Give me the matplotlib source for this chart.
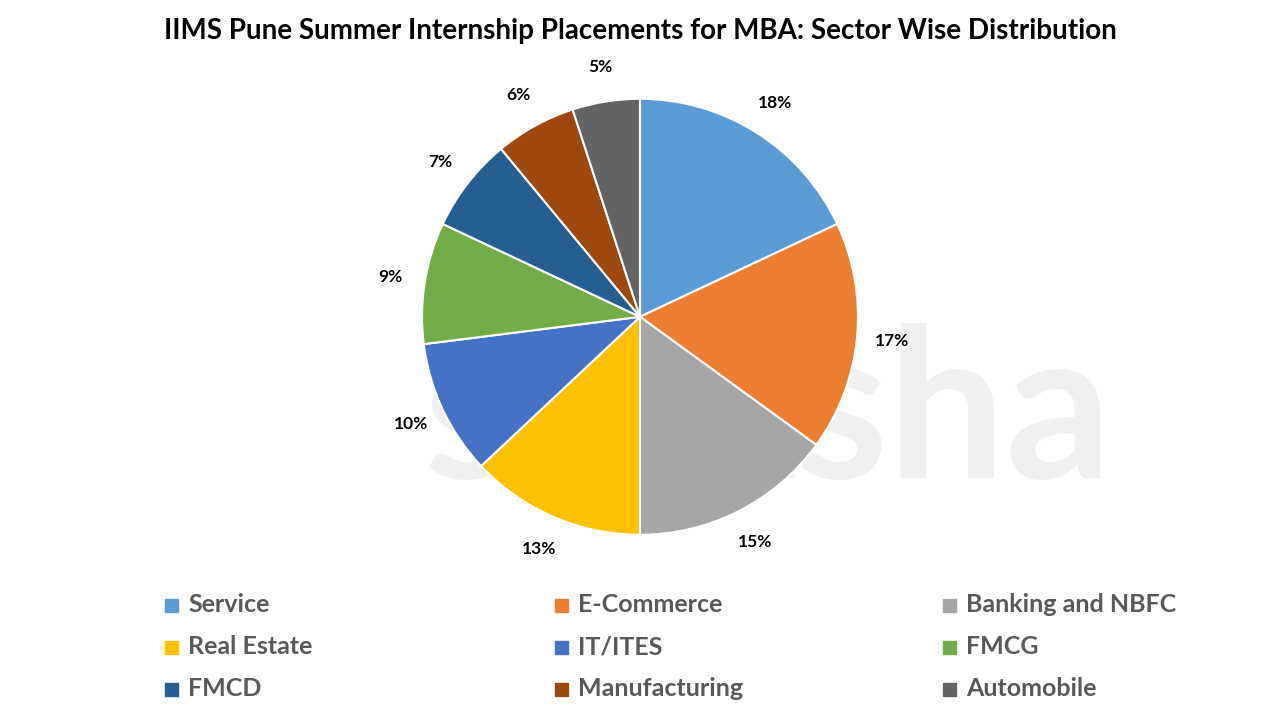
import matplotlib
matplotlib.use("Agg")
import matplotlib.pyplot as plt
from matplotlib.patches import Rectangle

categories = ["Service", "E-Commerce", "Banking and NBFC", "Real Estate", "IT/ITES",
              "FMCG", "FMCD", "Manufacturing", "Automobile"]
values = [18, 17, 15, 13, 10, 9, 7, 6, 5]
colors = ["#5B9BD5", "#ED7D31", "#A5A5A5", "#FFC000", "#4472C4",
          "#70AD47", "#255E91", "#9E480E", "#636363"]

plt.rcParams['font.family'] = ['Lato', 'DejaVu Sans']
fig = plt.figure(figsize=(12.8, 7.2), dpi=100)
fig.patch.set_facecolor("white")

# faint watermark behind the pie
fig.text(0.6, 0.42, "shiksha", fontsize=150, color="#f0f0f0", ha="center", va="center",
         fontweight="bold", zorder=-5)

ax = fig.add_axes([0.5 - 0.1703, 0.56 - 0.3028, 0.3406, 0.6056])
ax.set_facecolor("none")
wedges, texts, autotexts = ax.pie(
    values, colors=colors, startangle=90, counterclock=False,
    autopct=lambda p: f"{round(p)}%", pctdistance=1.16,
    wedgeprops=dict(edgecolor="white", linewidth=1.5),
    textprops=dict(fontsize=12.5, fontweight="bold", color="black"))
ax.set_xlim(-1, 1)
ax.set_ylim(-1, 1)
ax.set_aspect("equal")
for t in autotexts:
    t.set_clip_on(False)

fig.text(0.5, 0.957, "IIMS Pune Summer Internship Placements for MBA: Sector Wise Distribution",
         ha="center", va="center", fontsize=20, fontweight="bold", color="black")

col_x = [165 / 1280, 555 / 1280, 943 / 1280]
row_y = [1 - 605 / 720, 1 - 647 / 720, 1 - 689 / 720]
sq_w, sq_h = 13 / 1280, 13 / 720
for i, (cat, col) in enumerate(zip(categories, colors)):
    r, c = divmod(i, 3)
    x, y = col_x[c], row_y[r]
    fig.patches.append(Rectangle((x, y - sq_h / 2), sq_w, sq_h, color=col,
                                 transform=fig.transFigure, figure=fig))
    fig.text(x + 23 / 1280, y, cat, ha="left", va="center", fontsize=18,
             fontweight="bold", color="#595959")

fig.savefig("out.png", dpi=100, facecolor="white")
